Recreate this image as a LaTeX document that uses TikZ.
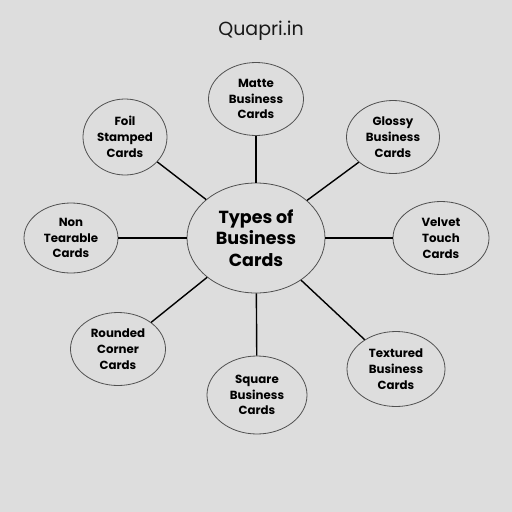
\documentclass[tikz,border=0pt]{standalone}
\usepackage{fontspec}
\setmainfont{Poppins}
\usetikzlibrary{shapes.geometric}
\definecolor{bg}{RGB}{221,221,221}
\definecolor{rim}{RGB}{80,80,80}
\begin{document}
\begin{tikzpicture}[x=1pt,y=-1pt,
  link/.style={draw=black,line width=1.4pt},
  outer/.style={ellipse,draw=rim,line width=0.8pt,fill=bg,minimum width=95pt,minimum height=73pt,inner sep=0pt,align=center,font=\fontsize{11.8}{15.7}\selectfont\bfseries}]
\fill[bg] (0,0) rectangle (512,512);
\useasboundingbox (0,0) rectangle (512,512);
\node[font=\fontsize{19}{22}\selectfont,text=black!90] (title) at (261,31) {Quapri.in};
\node[ellipse,draw=rim,line width=0.8pt,fill=bg,minimum width=138pt,minimum height=110pt,inner sep=0pt,align=center,font=\fontsize{17.5}{21.5}\selectfont\bfseries] (c) at (256,238) {Types of\\Business\\Cards};
\node[outer] (matte) at (256,99) {Matte\\Business\\Cards};
\node[outer,minimum width=84pt,minimum height=76pt] (foil) at (125,137) {Foil\\Stamped\\Cards};
\node[outer,minimum width=93pt] (glossy) at (393,137) {Glossy\\Business\\Cards};
\node[outer,minimum width=96pt] (velvet) at (441,238) {Velvet\\Touch\\Cards};
\node[outer,minimum width=98pt,minimum height=75pt] (tex) at (396,369) {Textured\\Business\\Cards};
\node[outer,minimum width=100pt,minimum height=78pt] (square) at (257,395) {Square\\Business\\Cards};
\node[outer,minimum width=95pt] (round) at (118,349) {Rounded\\Corner\\Cards};
\node[outer,minimum width=94pt,minimum height=70pt] (non) at (71,238) {Non\\Tearable\\Cards};
\foreach \n in {matte,foil,glossy,velvet,tex,square,round,non}
  \draw[link] (c) -- (\n);
\end{tikzpicture}
\end{document}
